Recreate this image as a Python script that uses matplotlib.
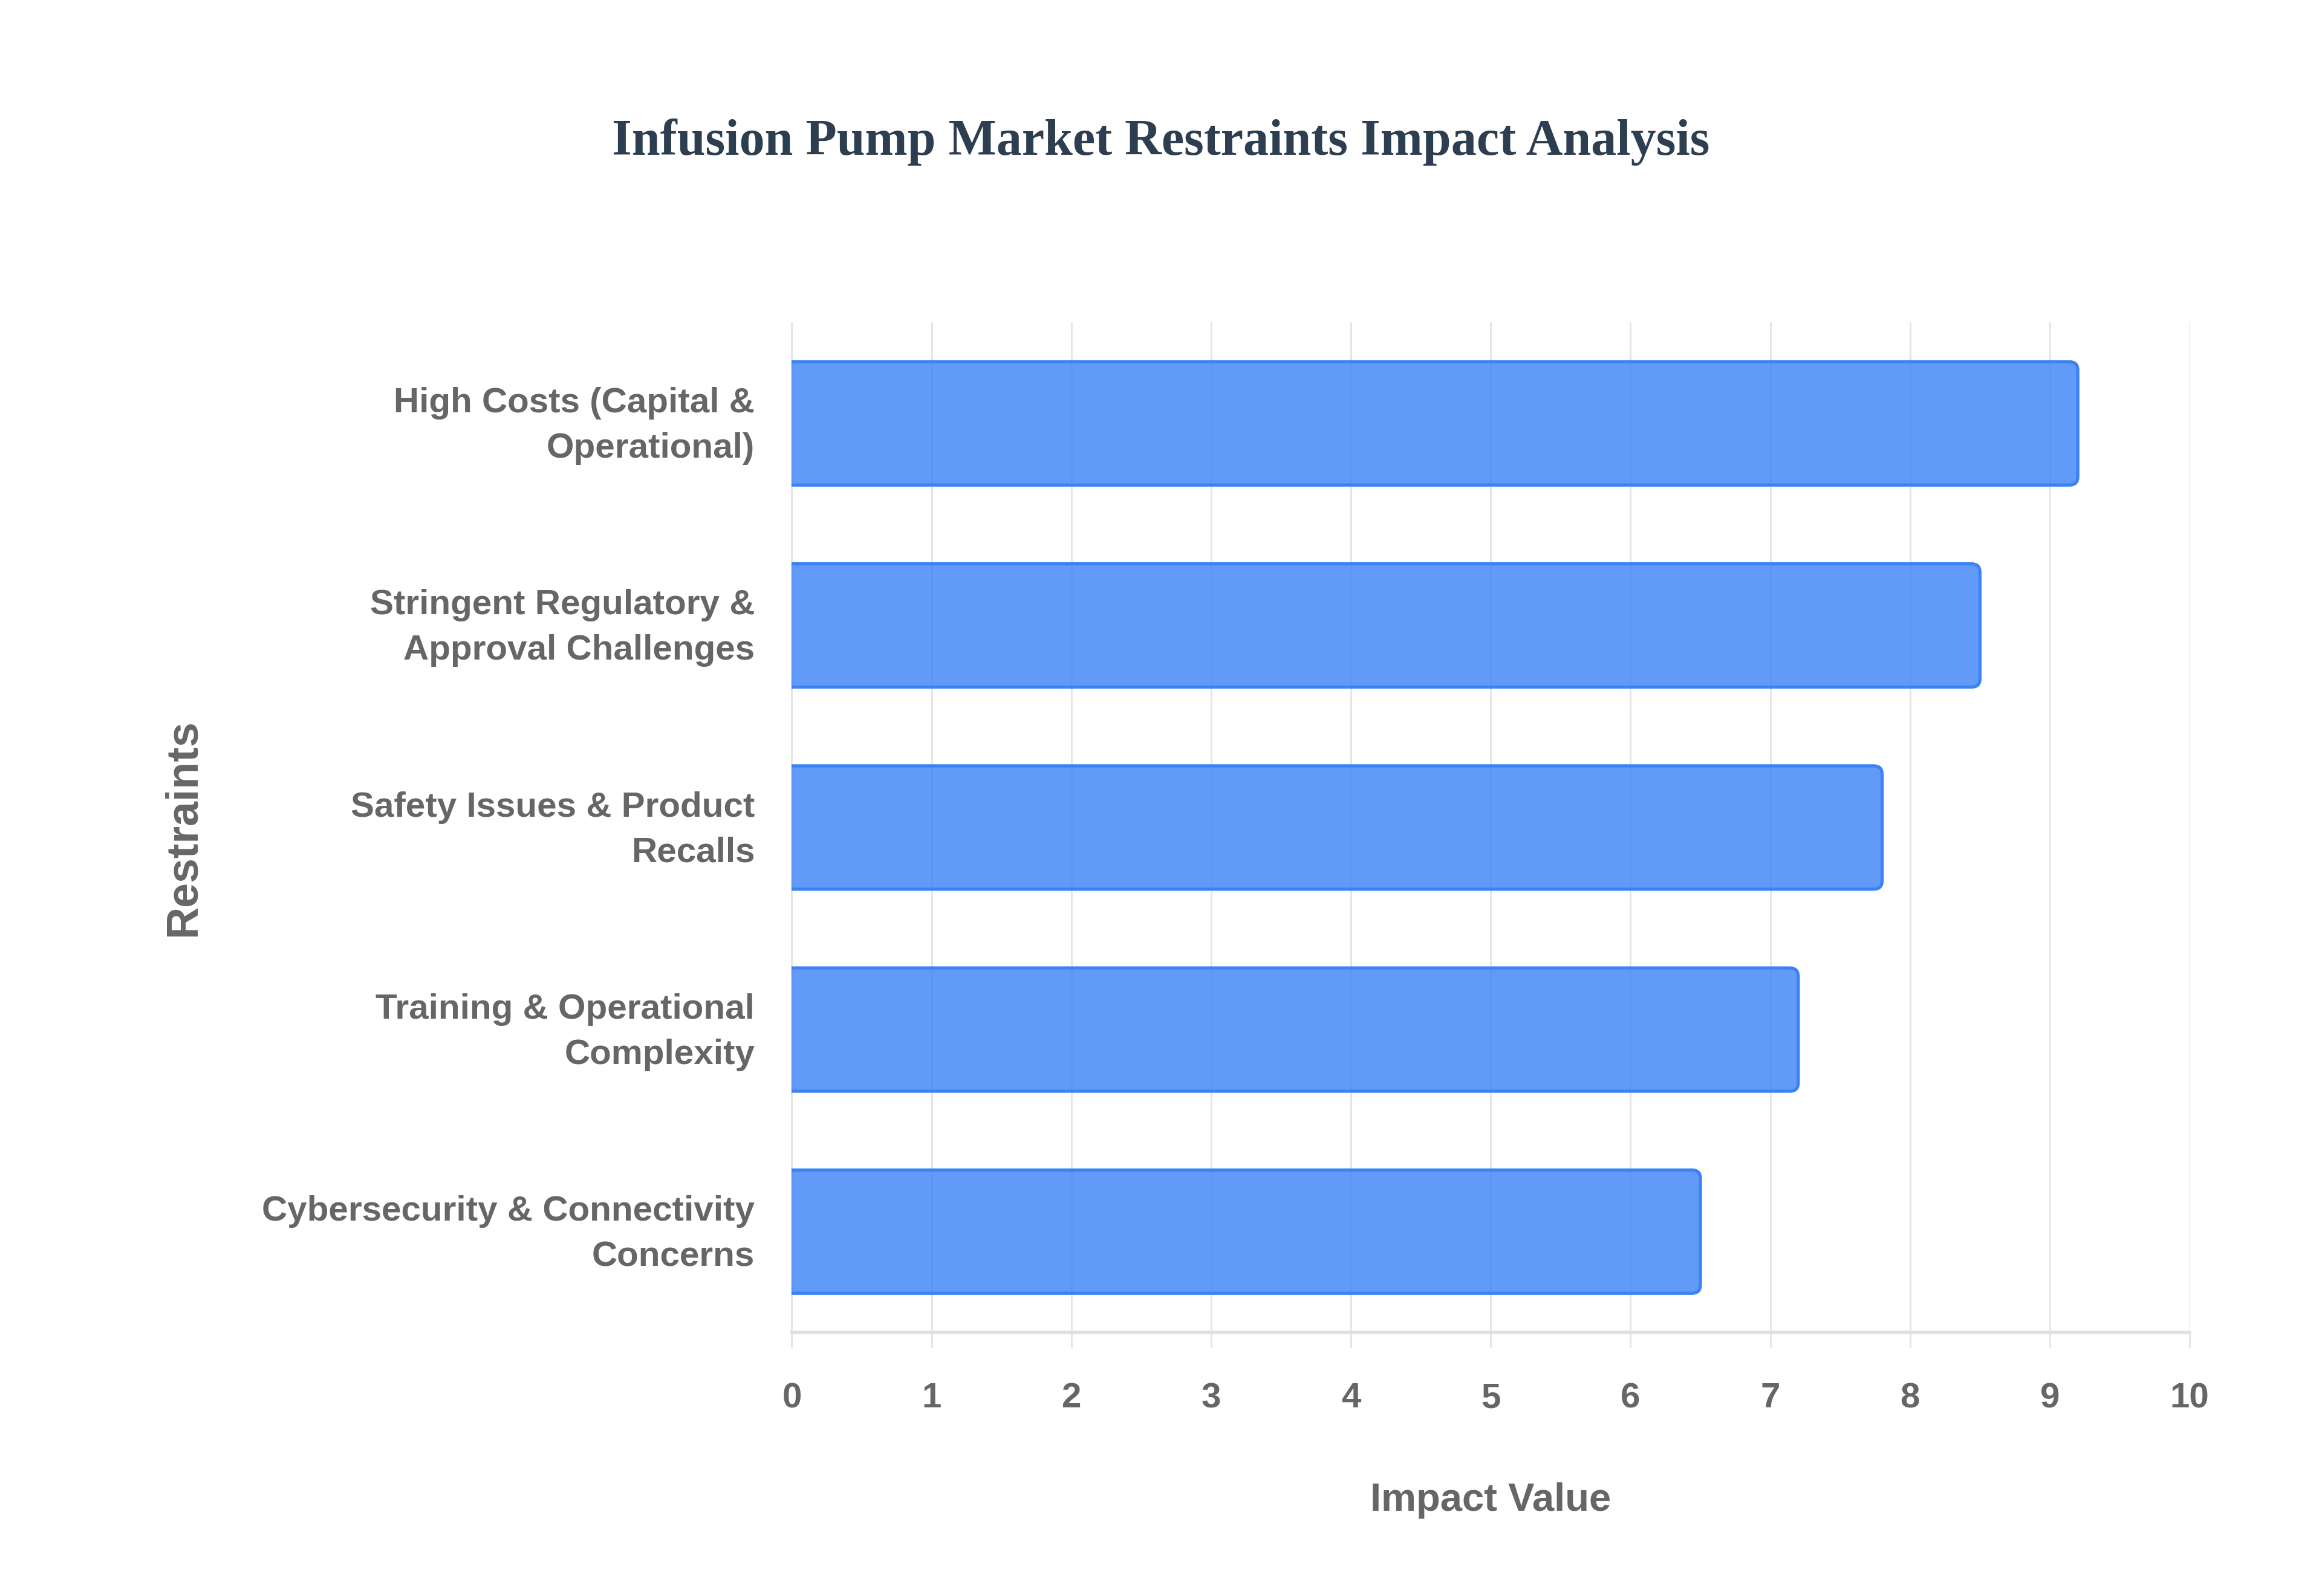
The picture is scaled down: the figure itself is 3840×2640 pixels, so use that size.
import matplotlib
matplotlib.use("Agg")
import matplotlib.pyplot as plt
from matplotlib.patches import FancyBboxPatch
from matplotlib.transforms import ScaledTranslation
import numpy as np

categories = [
    "High Costs (Capital &\nOperational)",
    "Stringent Regulatory &\nApproval Challenges",
    "Safety Issues & Product\nRecalls",
    "Training & Operational\nComplexity",
    "Cybersecurity & Connectivity\nConcerns",
]
values = [9.2, 8.5, 7.8, 7.2, 6.5]
x_ticks = list(range(0, 11))

title = "Infusion Pump Market Restraints Impact Analysis"
x_label = "Impact Value"
y_label = "Restraints"

SANS = ["Liberation Sans", "DejaVu Sans"]
tick_fs = 21
xlab_fs = 23.5

DPI = 200
fig = plt.figure(figsize=(3840 / DPI, 2640 / DPI), dpi=DPI)
L, R, B, T = 0.341, 0.943, 0.165, 0.798
ax = fig.add_axes([L, B, R - L, T - B])

grid_col = "#e4e4e4"
text_col = "#666666"
fill_col = (59 / 255, 130 / 255, 246 / 255, 0.8)
edge_col = "#3b82f6"

n = len(categories)
ypos = np.arange(n)
bar_h = 0.61

ax.set_xlim(0, 10)
ax.set_ylim(n - 0.5, -0.5)

ax_w_px = (R - L) * 3840
ax_h_px = (T - B) * 2640
x_per_px = 10 / ax_w_px
y_per_px = n / ax_h_px
aspect = y_per_px / x_per_px
rad_px = 14
for y, v in zip(ypos, values):
    r = rad_px * x_per_px
    patch = FancyBboxPatch(
        (-0.3, y - bar_h / 2), v + 0.3, bar_h,
        boxstyle=f"round,pad=0,rounding_size={r}",
        mutation_aspect=aspect,
        facecolor=fill_col, edgecolor=edge_col, linewidth=1.9, zorder=3,
    )
    ax.add_patch(patch)

ax.set_yticks(ypos)
ax.set_yticklabels(categories, fontsize=tick_fs, fontweight="bold", color=text_col,
                   family=SANS, linespacing=1.5)
ax.set_xticks(x_ticks)
ax.set_xticklabels([str(t) for t in x_ticks], fontsize=tick_fs, fontweight="bold",
                   color=text_col, family=SANS)

ax.tick_params(axis="y", length=0, pad=22)
ax.tick_params(axis="x", length=9, width=1, color=grid_col, pad=20.5)

shift = ScaledTranslation(0, 4.4 / 72, fig.dpi_scale_trans)
for tick in ax.yaxis.get_major_ticks():
    tick.label1.set_transform(tick.label1.get_transform() + shift)

ax.grid(axis="x", color=grid_col, linewidth=1.0, zorder=0)
ax.set_axisbelow(True)
for s in ["top", "right"]:
    ax.spines[s].set_visible(False)
ax.spines["left"].set_color(grid_col)
ax.spines["left"].set_linewidth(1.0)
ax.spines["bottom"].set_color("#e0e0e0")
ax.spines["bottom"].set_linewidth(2.0)

fig.text(0.5, 0.911, title, ha="center", va="center", fontsize=30.3,
         fontweight="bold", color="#2c3e50", family=["Liberation Serif", "DejaVu Serif"])
fig.text((L + R) / 2, 0.060, x_label, ha="center", va="center", fontsize=xlab_fs,
         fontweight="bold", color=text_col, family=SANS)
fig.text(0.079, (T + B) / 2, y_label, ha="center", va="center", rotation=90,
         fontsize=26.5, fontweight="bold", color=text_col, family=SANS)

fig.savefig("out.png", dpi=DPI, facecolor="white")
